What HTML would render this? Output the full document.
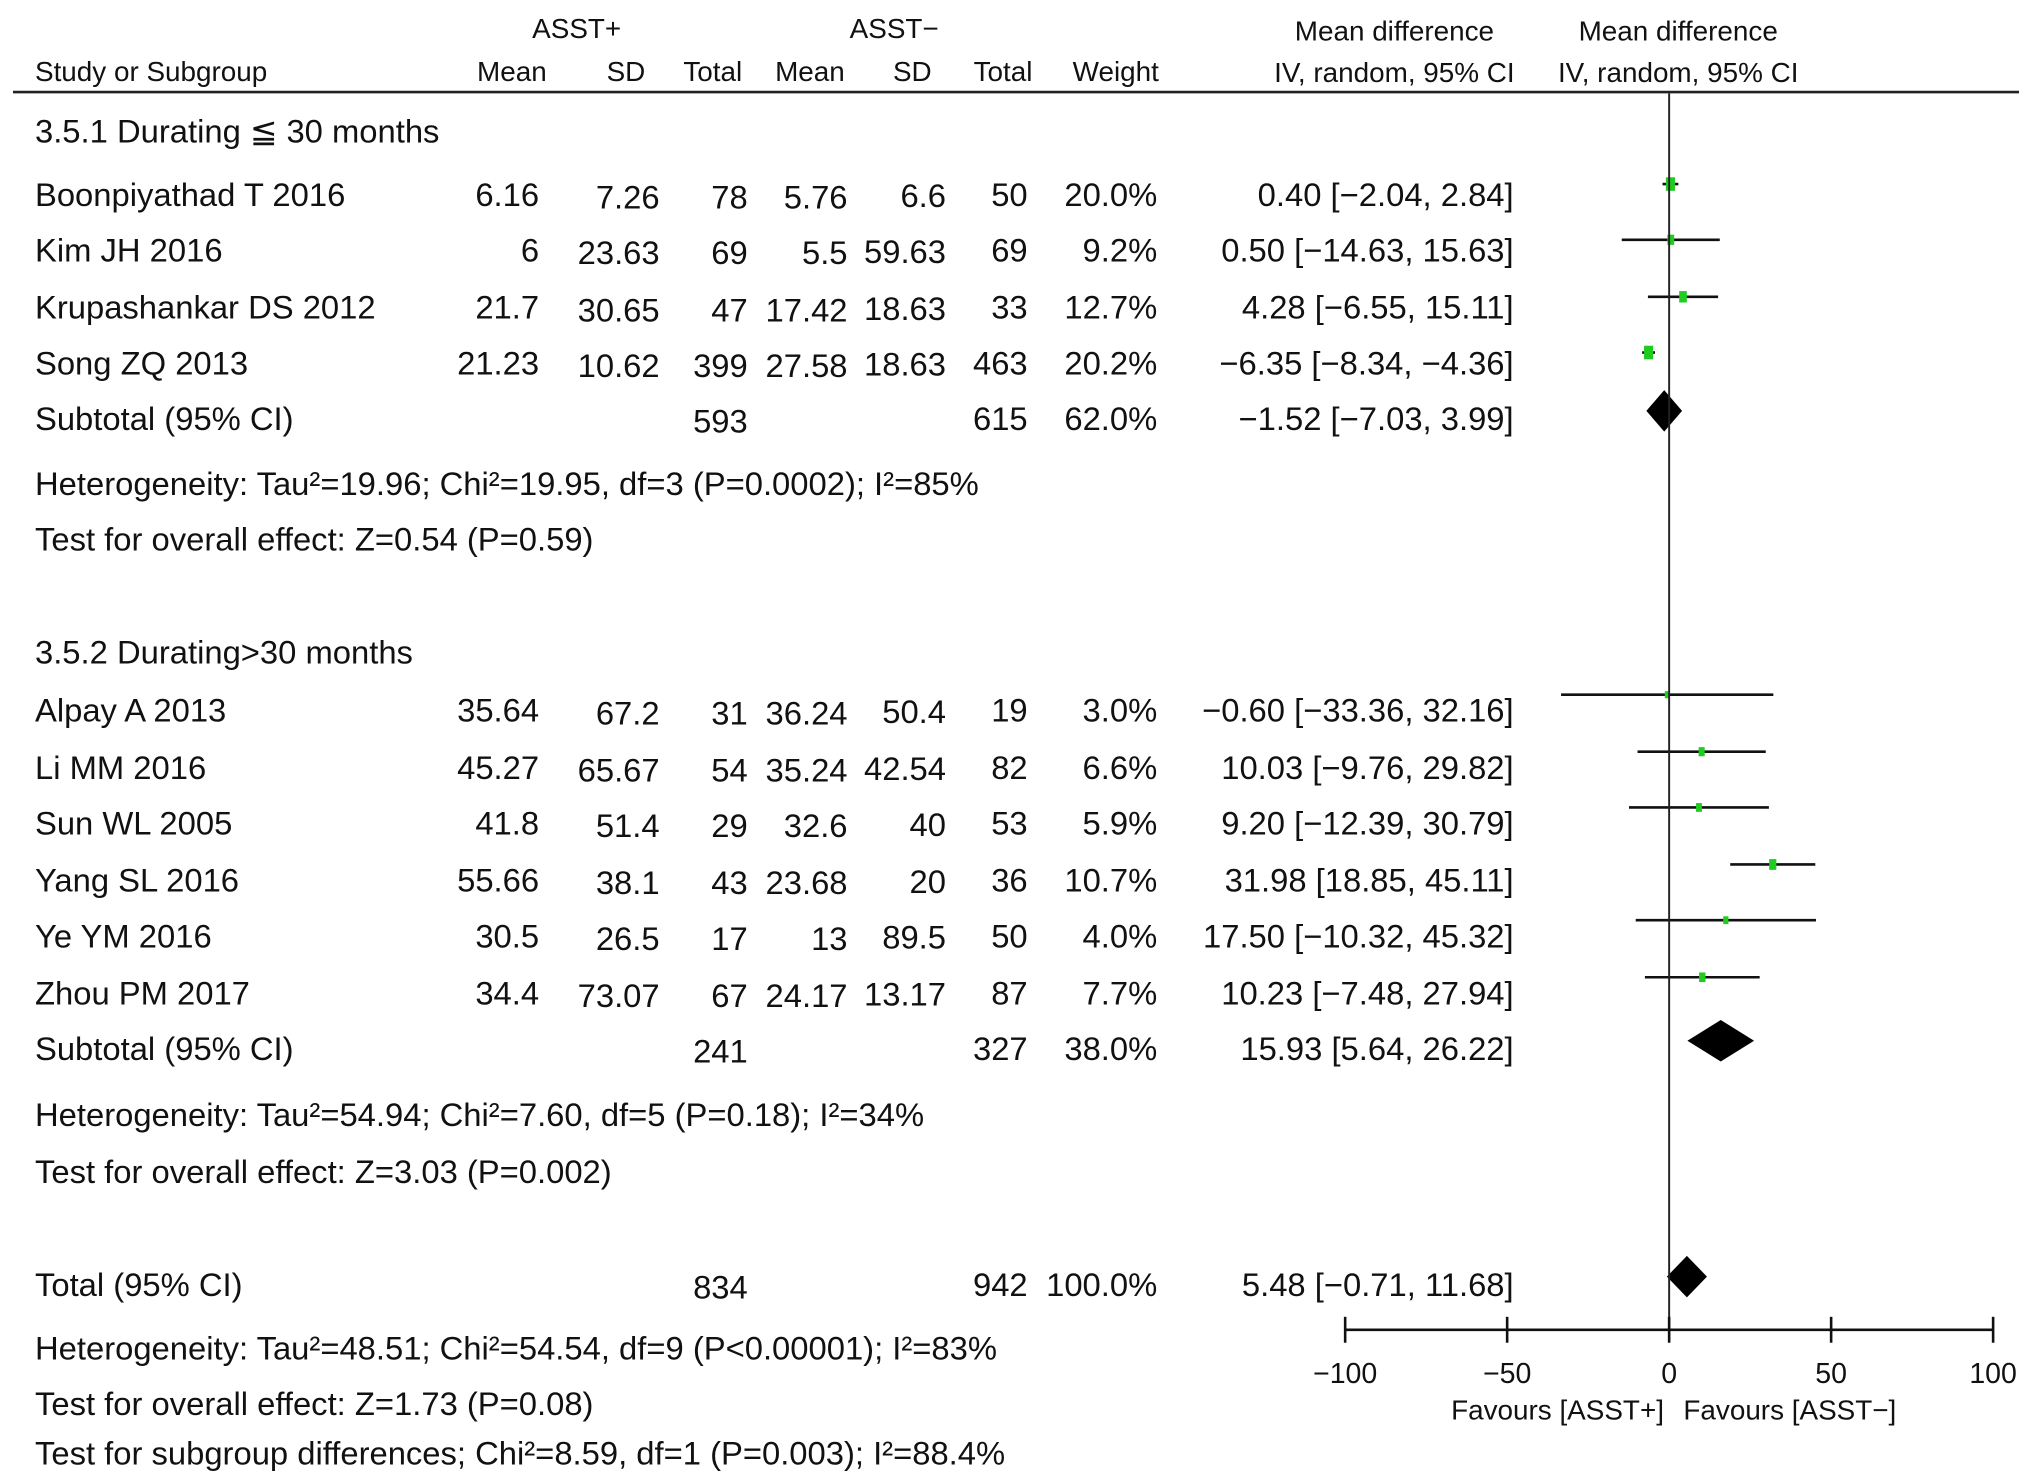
<!DOCTYPE html>
<html><head><meta charset="utf-8"><style>
html,body{margin:0;padding:0;background:#fff}
svg{display:block}
text{font-family:"Liberation Sans",Arial,sans-serif;fill:#111}
</style></head><body>
<svg id="chart" width="2032" height="1484" viewBox="0 0 1568 1145" preserveAspectRatio="none" xmlns="http://www.w3.org/2000/svg">
<g id="hdr" font-size="21.5">
<text x="445" y="22" text-anchor="middle" dominant-baseline="central">ASST+</text>
<text x="690" y="22" text-anchor="middle" dominant-baseline="central">ASST−</text>
<text x="27" y="55" dominant-baseline="central">Study or Subgroup</text>
<text x="395" y="55" text-anchor="middle" dominant-baseline="central">Mean</text>
<text x="483" y="55" text-anchor="middle" dominant-baseline="central">SD</text>
<text x="550" y="55" text-anchor="middle" dominant-baseline="central">Total</text>
<text x="625" y="55" text-anchor="middle" dominant-baseline="central">Mean</text>
<text x="704" y="55" text-anchor="middle" dominant-baseline="central">SD</text>
<text x="774" y="55" text-anchor="middle" dominant-baseline="central">Total</text>
<text x="861" y="55" text-anchor="middle" dominant-baseline="central">Weight</text>
<text x="1076" y="24" text-anchor="middle" dominant-baseline="central">Mean difference</text>
<text x="1076" y="56" text-anchor="middle" dominant-baseline="central">IV, random, 95% CI</text>
<text x="1295" y="24" text-anchor="middle" dominant-baseline="central">Mean difference</text>
<text x="1295" y="56" text-anchor="middle" dominant-baseline="central">IV, random, 95% CI</text>
</g>
<line x1="10" y1="71" x2="1558" y2="71" stroke="#222" stroke-width="2"/>
<g id="rows" font-size="25.3"></g>
<g id="plot"></g>
</svg>
<script>
const studies = ["Boonpiyathad T 2016","Kim JH 2016","Krupashankar DS 2012","Song ZQ 2013","Alpay A 2013","Li MM 2016","Sun WL 2005","Yang SL 2016","Ye YM 2016","Zhou PM 2017"];
const rowY = [150,193,237,280,548,592,635,679,722,766];
const mean1 = ["6.16","6","21.7","21.23","35.64","45.27","41.8","55.66","30.5","34.4"];
const sd1 = ["7.26","23.63","30.65","10.62","67.2","65.67","51.4","38.1","26.5","73.07"];
const n1 = ["78","69","47","399","31","54","29","43","17","67"];
const mean2 = ["5.76","5.5","17.42","27.58","36.24","35.24","32.6","23.68","13","24.17"];
const sd2 = ["6.6","59.63","18.63","18.63","50.4","42.54","40","20","89.5","13.17"];
const n2 = ["50","69","33","463","19","82","53","36","50","87"];
const weights = [20.0,9.2,12.7,20.2,3.0,6.6,5.9,10.7,4.0,7.7];
const md = [0.40,0.50,4.28,-6.35,-0.60,10.03,9.20,31.98,17.50,10.23];
const lo = [-2.04,-14.63,-6.55,-8.34,-33.36,-9.76,-12.39,18.85,-10.32,-7.48];
const hi = [2.84,15.63,15.11,-4.36,32.16,29.82,30.79,45.11,45.32,27.94];
const sumLabels = ["Subtotal (95% CI)","Subtotal (95% CI)","Total (95% CI)"];
const sumY = [323,809,991];
const sumN1 = ["593","241","834"];
const sumN2 = ["615","327","942"];
const sumW = ["62.0%","38.0%","100.0%"];
const sumMd = [-1.52,15.93,5.48];
const sumLo = [-7.03,5.64,-0.71];
const sumHi = [3.99,26.22,11.68];
const ticks = [-100,-50,0,50,100];
const notes = ["3.5.1 Durating \u2266 30 months","Heterogeneity: Tau\u00b2=19.96; Chi\u00b2=19.95, df=3 (P=0.0002); I\u00b2=85%","Test for overall effect: Z=0.54 (P=0.59)","3.5.2 Durating>30 months","Heterogeneity: Tau\u00b2=54.94; Chi\u00b2=7.60, df=5 (P=0.18); I\u00b2=34%","Test for overall effect: Z=3.03 (P=0.002)","Heterogeneity: Tau\u00b2=48.51; Chi\u00b2=54.54, df=9 (P<0.00001); I\u00b2=83%","Test for overall effect: Z=1.73 (P=0.08)","Test for subgroup differences; Chi\u00b2=8.59, df=1 (P=0.003); I\u00b2=88.4%"];
const noteY = [101,373,416,503,860,904,1040,1083,1121];

const NS="http://www.w3.org/2000/svg";
const rows=document.getElementById('rows'), plot=document.getElementById('plot');
const X = v => 1288 + v*2.5;
const fmt = v => (v<0?"\u2212":"")+Math.abs(v).toFixed(2);
const ciTxt=(m,l,h)=>fmt(m)+" ["+fmt(l)+", "+fmt(h)+"]";
function t(parent,x,y,s,anchor,name,size){
  const e=document.createElementNS(NS,'text');
  e.setAttribute('x',x);e.setAttribute('y',y);e.setAttribute('dominant-baseline','central');
  if(anchor)e.setAttribute('text-anchor',anchor);
  if(size)e.setAttribute('font-size',size);
  e.textContent=s;
  
  
  parent.appendChild(e);return e;
}
function el(tag,attrs,parent){const e=document.createElementNS(NS,tag);for(const k in attrs)e.setAttribute(k,attrs[k]);parent.appendChild(e);return e;}
notes.forEach((s,i)=>t(rows,27,noteY[i],s,null,'note-text'));
studies.forEach((s,i)=>{
  const y=rowY[i];
  t(rows,27,y,s,null,'study-name');
  t(rows,416,y,mean1[i],'end','mean-asst-pos');
  t(rows,509,y+2,sd1[i],'end','sd-asst-pos');
  t(rows,577,y+2,n1[i],'end','total-asst-pos');
  t(rows,654,y+2,mean2[i],'end','mean-asst-neg');
  t(rows,730,y+1,sd2[i],'end','sd-asst-neg');
  t(rows,793,y,n2[i],'end','total-asst-neg');
  t(rows,893,y,weights[i].toFixed(1)+"%",'end','weight');
  t(rows,1168,y,ciTxt(md[i],lo[i],hi[i]),'end','ci-text');
  const my=y+(i<4?-8:-12);
  const ci=el('line',{x1:X(lo[i]),x2:X(hi[i]),y1:my,y2:my,stroke:'#111','stroke-width':2},plot);
  
  
  const sz=2+Math.sqrt(weights[i])*1.5;
  const sq=el('rect',{x:X(md[i])-sz*0.4,y:my-sz*0.6,width:sz*0.8,height:sz*1.2,fill:'#1fcc1f'},plot);
  
  
});
sumLabels.forEach((s,i)=>{
  const y=sumY[i];
  t(rows,27,y,s,null,'summary-label');
  t(rows,577,y+2,sumN1[i],'end','summary-total-pos');
  t(rows,793,y,sumN2[i],'end','summary-total-neg');
  t(rows,893,y,sumW[i],'end','summary-weight');
  t(rows,1168,y,ciTxt(sumMd[i],sumLo[i],sumHi[i]),'end','summary-ci-text');
  const cy=y-6,h=16;
  const d=el('polygon',{points:`${X(sumLo[i])},${cy} ${X(sumMd[i])},${cy-h} ${X(sumHi[i])},${cy} ${X(sumMd[i])},${cy+h}`,fill:'#000'},plot);
  
  
});
const zl=el('line',{x1:X(0),x2:X(0),y1:72,y2:1026,stroke:'#222','stroke-width':1.5},plot);


const ax=el('line',{x1:X(-100),x2:X(100),y1:1026,y2:1026,stroke:'#111','stroke-width':2},plot);


ticks.forEach(v=>{
  const tk=el('line',{x1:X(v),x2:X(v),y1:1016,y2:1036,stroke:'#111','stroke-width':2},plot);
  
  
  t(plot,X(v),1060,(v<0?"\u2212":"")+Math.abs(v),'middle','x-tick-label',22);
});
t(plot,1284,1088,"Favours [ASST+]",'end','favours-left',21.5);
t(plot,1299,1088,"Favours [ASST\u2212]",null,'favours-right',21.5);
</script>
</body></html>
